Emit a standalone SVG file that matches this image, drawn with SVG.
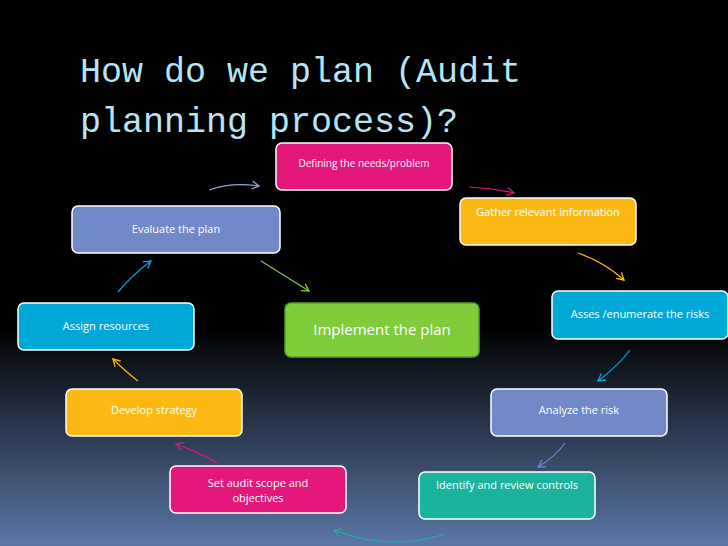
<svg xmlns="http://www.w3.org/2000/svg" width="728" height="546" viewBox="0 0 728 546">
<defs>
<linearGradient id="bg" x1="0" y1="0" x2="0" y2="1">
<stop offset="0" stop-color="#000"/><stop offset="0.6" stop-color="#000"/><stop offset="1" stop-color="#5a77a6"/>
</linearGradient>
<marker id="ah" markerWidth="10" markerHeight="10" refX="8" refY="5" orient="auto" markerUnits="userSpaceOnUse"><path d="M1,1 L8,5 L1,9" fill="none" stroke="context-stroke" stroke-width="1.3"/></marker>
</defs>
<style>
.n{stroke:#fff;stroke-width:1.5}
.t{font-family:"Open Sans","Liberation Sans",sans-serif;font-size:11px;fill:#fff;text-anchor:middle}
.c path{fill:none;stroke-width:1.2;marker-end:url(#ah)}
.title{font-family:"Liberation Mono",monospace;font-size:35px;fill:#b8e4f5}
</style>
<rect width="728" height="546" fill="url(#bg)"/>
<text class="title" x="80" y="82">How do we plan (Audit</text>
<text class="title" x="80" y="132">planning process)?</text>
<g id="n1"><rect class="n" x="276" y="143" width="176" height="47" rx="6" fill="#e4177b"/><text class="t" x="364" y="167" style="font-size:10px">Defining the needs/problem</text></g>
<g id="n2"><rect class="n" x="460" y="198" width="176" height="47" rx="6" fill="#fdb913"/><text class="t" x="548" y="216">Gather relevant information</text></g>
<g id="n3"><rect class="n" x="552" y="291" width="176" height="48" rx="6" fill="#00a8d8"/><text class="t" x="640" y="318">Asses /enumerate the risks</text></g>
<g id="n4"><rect class="n" x="491" y="389" width="176" height="47" rx="6" fill="#7189c7"/><text class="t" x="579" y="414">Analyze the risk</text></g>
<g id="n5"><rect class="n" x="419" y="472" width="176" height="47" rx="6" fill="#1bb39b"/><text class="t" x="507" y="489">Identify and review controls</text></g>
<g id="n6"><rect class="n" x="170" y="466" width="176" height="47" rx="6" fill="#e4177b"/><text class="t" x="258" y="487">Set audit scope and</text><text class="t" x="258" y="502">objectives</text></g>
<g id="n7"><rect class="n" x="66" y="389" width="176" height="47" rx="6" fill="#fdb913"/><text class="t" x="154" y="414">Develop strategy</text></g>
<g id="n8"><rect class="n" x="18" y="303" width="176" height="47" rx="6" fill="#00a8d8"/><text class="t" x="106" y="330">Assign resources</text></g>
<g id="n9"><rect class="n" x="72" y="206" width="208" height="47" rx="6" fill="#7189c7"/><text class="t" x="176" y="233">Evaluate the plan</text></g>
<g id="n10"><rect x="285" y="303" width="194" height="54" rx="6" fill="#80cc3a" stroke="#5b9b2a" stroke-width="1.5"/><text class="t" x="382" y="335" style="font-size:15px">Implement the plan</text></g>
<g class="c" id="connectors">
<path d="M209,190 Q232,182 259,186" stroke="#8ea3d8"/>
<path d="M469,187 Q492,188 514,193" stroke="#e4177b"/>
<path d="M578,253 Q604,262 624,280" stroke="#fdb913"/>
<path d="M630,350 Q618,366 598,381" stroke="#00a8d8"/>
<path d="M565,443 Q555,457 538,467" stroke="#7189c7"/>
<path d="M445,534 Q390,552 334,530" stroke="#1bb39b"/>
<path d="M217,463 Q198,452 176,444" stroke="#e4177b"/>
<path d="M138,381 Q126,372 113,359" stroke="#fdb913"/>
<path d="M118,292 Q132,275 151,261" stroke="#00a8d8"/>
<path d="M261,261 L309,291" stroke="#80cc3a"/>
</g>
</svg>
